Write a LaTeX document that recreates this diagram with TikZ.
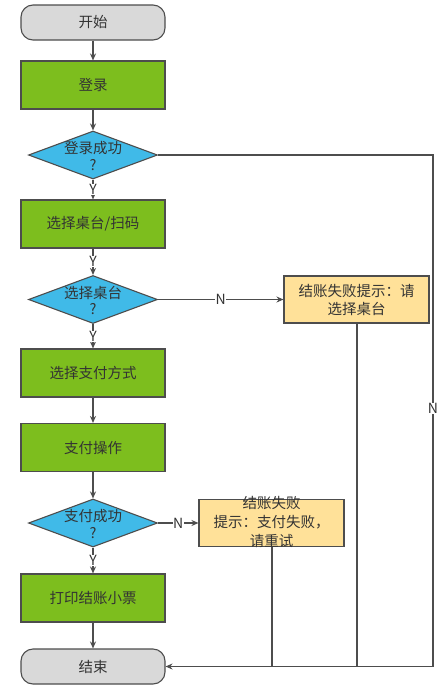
\documentclass[tikz,border=0pt]{standalone}
\usepackage{fontspec}
\setmainfont{Noto Sans CJK SC}
\usetikzlibrary{arrows.meta,shapes.geometric}
\definecolor{bgreen}{RGB}{125,190,30}
\definecolor{bblue}{RGB}{64,186,232}
\definecolor{byellow}{RGB}{255,225,153}
\definecolor{bgrey}{RGB}{217,217,217}
\definecolor{bline}{RGB}{77,77,77}
\definecolor{btext}{RGB}{51,51,51}
\tikzset{
  base/.style={draw=bline, line width=1.1pt, text=btext, font=\fontsize{14.5}{18}\selectfont, align=center, inner sep=0pt},
  term/.style={base, fill=bgrey, rounded corners=12pt, minimum width=144pt, minimum height=35pt},
  proc/.style={base, fill=bgreen, minimum width=144pt, minimum height=48pt},
  warn/.style={base, fill=byellow, minimum width=145pt, minimum height=47pt},
  dia/.style={base, fill=bblue, shape=diamond, minimum width=129pt, minimum height=48pt, aspect=2.69},
  dtxt/.style={text=btext, font=\fontsize{14.5}{16.5}\selectfont, align=center, inner sep=0pt},
  conn/.style={draw=bline, line width=1.1pt, -{Stealth[length=7pt,width=6pt]}},
  plain/.style={draw=bline, line width=1.1pt},
  lbl/.style={fill=white, text=btext, font=\fontsize{14}{15}\selectfont, inner sep=0.5pt},
}
\begin{document}
\begin{tikzpicture}[x=1pt,y=-1pt]
\useasboundingbox (0,0) rectangle (446,694);
\node[term] (start) at (93,22.5) {开始};
\node[proc] (login) at (93,85) {登录};
\node[dia] (d1) at (93,155) {};
\node[dtxt] (d1t) at (93,156) {登录成功\\?};
\node[proc] (scan) at (93,224) {选择桌台/扫码};
\node[dia] (d2) at (93,299.5) {};
\node[dtxt] (d2t) at (93,300.5) {选择桌台\\?};
\node[warn] (w1) at (356.5,299.5) {结账失败提示：请\\选择桌台};
\node[proc] (pay) at (93,373) {选择支付方式};
\node[proc] (op) at (93,447.5) {支付操作};
\node[dia] (d3) at (93,523) {};
\node[dtxt] (d3t) at (93,524) {支付成功\\?};
\node[warn, text height=0pt] (w2) at (271.5,523) {};
\node[dtxt, font=\fontsize{14.5}{19}\selectfont] (w2t) at (271.5,522) {结账失败\\提示：支付失败，\\请重试};
\node[proc] (print) at (93,598) {打印结账小票};
\node[term] (end) at (93,666.5) {结束};
\coordinate (r1) at (433,155);
\coordinate (r2) at (433,666.5);
\coordinate (b1) at (357,666.5);
\coordinate (b2) at (272,666.5);

\draw[conn] (start) -- (login);
\draw[conn] (login) -- (d1);
\draw[conn] (d1) -- node[lbl]{Y} (scan);
\draw[conn] (scan) -- node[lbl]{Y} (d2);
\draw[conn] (d2) -- node[lbl]{N} (w1);
\draw[conn] (d2) -- node[lbl]{Y} (pay);
\draw[conn] (pay) -- (op);
\draw[conn] (op) -- (d3);
\draw[conn] (d3) -- node[lbl]{N} (w2);
\draw[conn] (d3) -- node[lbl]{Y} (print);
\draw[conn] (print) -- (end);
\draw[conn] (d1.east) -- (r1) -- node[lbl, pos=0.495]{N} (r2) -- (end.east);
\draw[plain] (w1.south -| b1) -- (b1);
\draw[plain] (w2.south -| b2) -- (b2);
\end{tikzpicture}
\end{document}
